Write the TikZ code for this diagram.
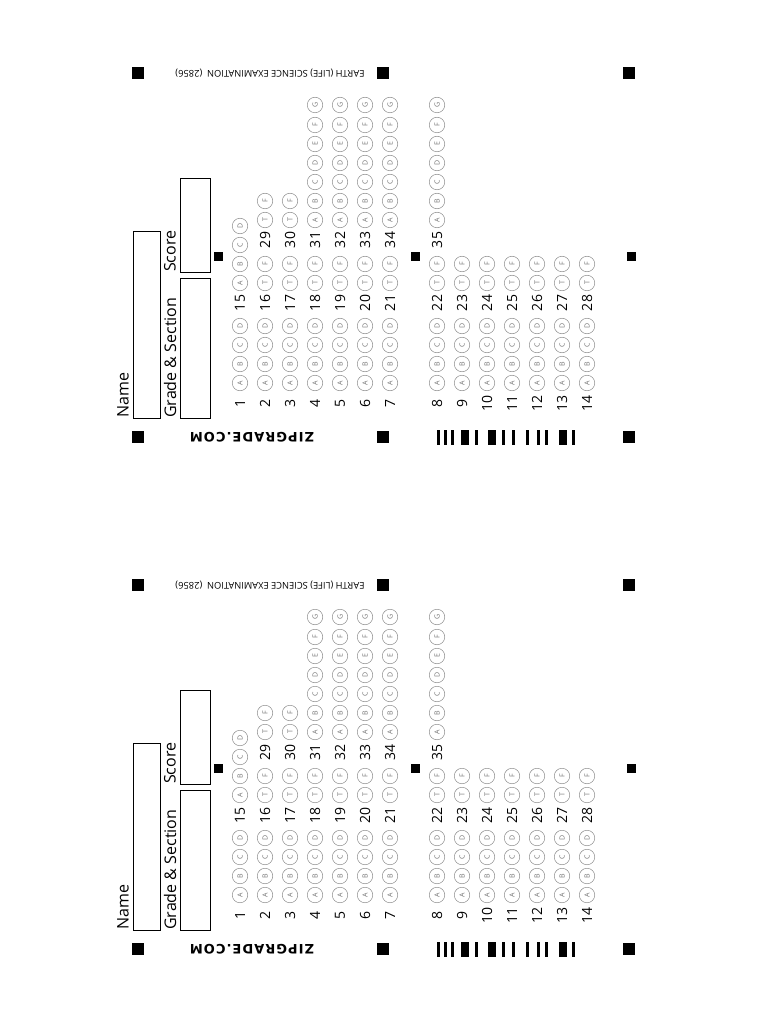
\documentclass[tikz,border=0pt]{standalone}
\usepackage{fontspec}
\setmainfont{Open Sans}
\newfontfamily\zipfont[LetterSpace=8]{DejaVu Sans}
\begin{document}
\begin{tikzpicture}[x=1pt,y=-1pt,
  bub/.style={circle,draw=black!45,line width=0.5pt,minimum size=15.5pt,inner sep=0pt,text=black!55,font=\fontsize{7}{7}\selectfont,rotate=90},
  num/.style={font=\fontsize{14}{14}\selectfont,rotate=90,inner sep=0pt},
  bigsq/.style={fill=black,minimum size=12pt,inner sep=0pt},
  smsq/.style={fill=black,minimum size=9pt,inner sep=0pt},
  wbox/.style={draw=black,line width=0.8pt},
  lab/.style={font=\fontsize{16}{16}\selectfont,rotate=90,inner sep=0pt}]
\useasboundingbox (0,0) rectangle (768,1024);
\foreach \s in {0,512}{
\begin{scope}[shift={(0,\s)}]
 \node[bigsq] (c1\s) at (138,73) {};
 \node[bigsq] (c2\s) at (383,73) {};
 \node[bigsq] (c3\s) at (629,73) {};
 \node[bigsq] (c4\s) at (138,437) {};
 \node[bigsq] (c5\s) at (383,437) {};
 \node[bigsq] (c6\s) at (629,437) {};
 \node[smsq] (m1\s) at (218,256) {};
 \node[smsq] (m2\s) at (415,256) {};
 \node[smsq] (m3\s) at (631,256) {};
 \node[rotate=180,font=\fontsize{9.3}{9.3}\selectfont,inner sep=0pt] (title\s) at (270,73) {EARTH (LIFE) SCIENCE EXAMINATION\ \ (2856)};
 \node[rotate=180,font=\zipfont\bfseries\fontsize{13}{13}\selectfont,inner sep=0pt] (zip\s) at (252,437) {ZIPGRADE.COM};
 \foreach \a/\w in {438/3,445/3,452/3,464.5/8,476/3,492/8,503/3,513/3,527/3,538/3,546/3,563/8,573/3}{
   \fill (\a-\w/2,430) rectangle (\a+\w/2,445);}
 \draw[wbox] (133,231) rectangle (160,418);
 \draw[wbox] (180,278) rectangle (210,418);
 \draw[wbox] (180,178) rectangle (210,272);
 \node[lab,anchor=west] (name\s) at (123,418) {Name};
 \node[lab,anchor=west] (grade\s) at (170,418) {Grade \& Section};
 \node[lab,anchor=west] (score\s) at (170,272) {Score};
 \foreach \q in {1,...,14}{
   \pgfmathsetmacro\xx{\q<8 ? 240+25*(\q-1) : 437+25*(\q-8)}
   \node[num] (n\s-\q) at (\xx,403) {\q};
   \foreach \L/\yy in {A/383,B/364,C/345,D/326}{\node[bub] (b\s-\q\L) at (\xx,\yy) {\L};}
   \pgfmathtruncatemacro\qq{\q+14}
   \node[num] (n\s-\qq) at (\xx,303) {\qq};
   \ifnum\q=1
     \foreach \L/\yy in {A/283,B/264,C/245,D/226}{\node[bub] (b\s-\qq\L) at (\xx,\yy) {\L};}
   \else
     \foreach \L/\yy in {T/283,F/264}{\node[bub] (b\s-\qq\L) at (\xx,\yy) {\L};}
   \fi
   \ifnum\q>1 \ifnum\q<9
     \pgfmathtruncatemacro\qr{\q+27}
     \node[num] (n\s-\qr) at (\xx,240) {\qr};
     \ifnum\q<4
       \foreach \L/\yy in {T/220,F/201}{\node[bub] (b\s-\qr\L) at (\xx,\yy) {\L};}
     \else
       \foreach \L/\yy in {A/220,B/201,C/182,D/163,E/144,F/125,G/105}{\node[bub] (b\s-\qr\L) at (\xx,\yy) {\L};}
     \fi
   \fi\fi
 }
\end{scope}}
\end{tikzpicture}
\end{document}
